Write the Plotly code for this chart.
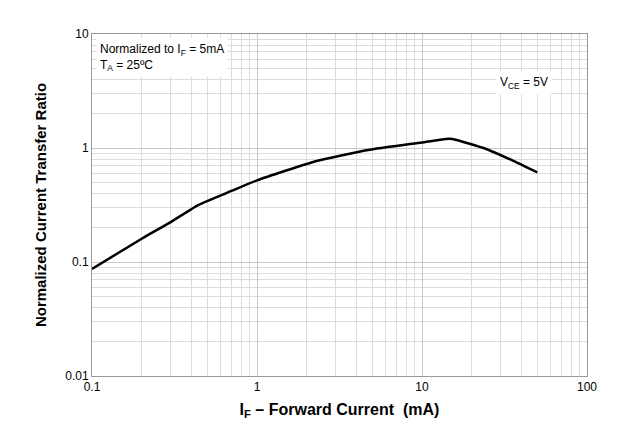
import plotly.graph_objects as go

forward_current = [0.1, 0.2, 0.3, 0.44, 0.7, 1, 2.3, 4.7, 10, 13.9, 15.3, 24.5, 35.8, 50]
ctr_normalized = [0.087, 0.16, 0.224, 0.316, 0.42, 0.52, 0.77, 0.96, 1.12, 1.2, 1.2, 0.98, 0.77, 0.61]

x_ticks = [0.1, 1, 10, 100]
y_ticks = [0.01, 0.1, 1, 10]

fig = go.Figure()
fig.add_trace(go.Scatter(x=forward_current, y=ctr_normalized, mode='lines',
                         line=dict(color='black', width=2.5, shape='spline', smoothing=0.5),
                         showlegend=False))

axis_common = dict(type='log', showline=True, linecolor='#999', linewidth=1, mirror=True,
                   gridcolor='#c8c8c8', gridwidth=1, ticks='',
                   minor=dict(showgrid=True, gridcolor='#dcdcdc', dtick='D1'),
                   tickfont=dict(family='Liberation Sans', size=12, color='black'))

fig.update_xaxes(axis_common, range=[-1, 2], tickvals=x_ticks, ticktext=['0.1', '1', '10', '100'],
                 title=dict(text='<b>I<sub>F</sub> – Forward Current  (mA)</b>',
                            font=dict(family='Liberation Sans', size=16, color='black'), standoff=10))
fig.update_yaxes(axis_common, range=[-2, 1], tickvals=y_ticks, ticktext=['0.01', '0.1', '1', '10'],
                 title=dict(text='<b>Normalized Current Transfer Ratio</b>',
                            font=dict(family='Liberation Sans', size=15, color='black'), standoff=14))

fig.add_annotation(x=0, y=1, xref='paper', yref='paper', xanchor='left', yanchor='top',
                   xshift=4, yshift=-4, showarrow=False, align='left', bgcolor='white',
                   text='Normalized to I<sub>F</sub> = 5mA<br>T<sub>A</sub> = 25ºC',
                   font=dict(family='Liberation Sans', size=12, color='black'), borderpad=3)
fig.add_annotation(x=1.62, y=0.57, xref='x', yref='y', showarrow=False, bgcolor='white',
                   text='V<sub>CE</sub> = 5V',
                   font=dict(family='Liberation Sans', size=12, color='black'), borderpad=3)

fig.update_layout(width=642, height=447, plot_bgcolor='white', paper_bgcolor='white',
                  margin=dict(l=84, r=63, t=26, b=79))

fig.write_html("out.html")
